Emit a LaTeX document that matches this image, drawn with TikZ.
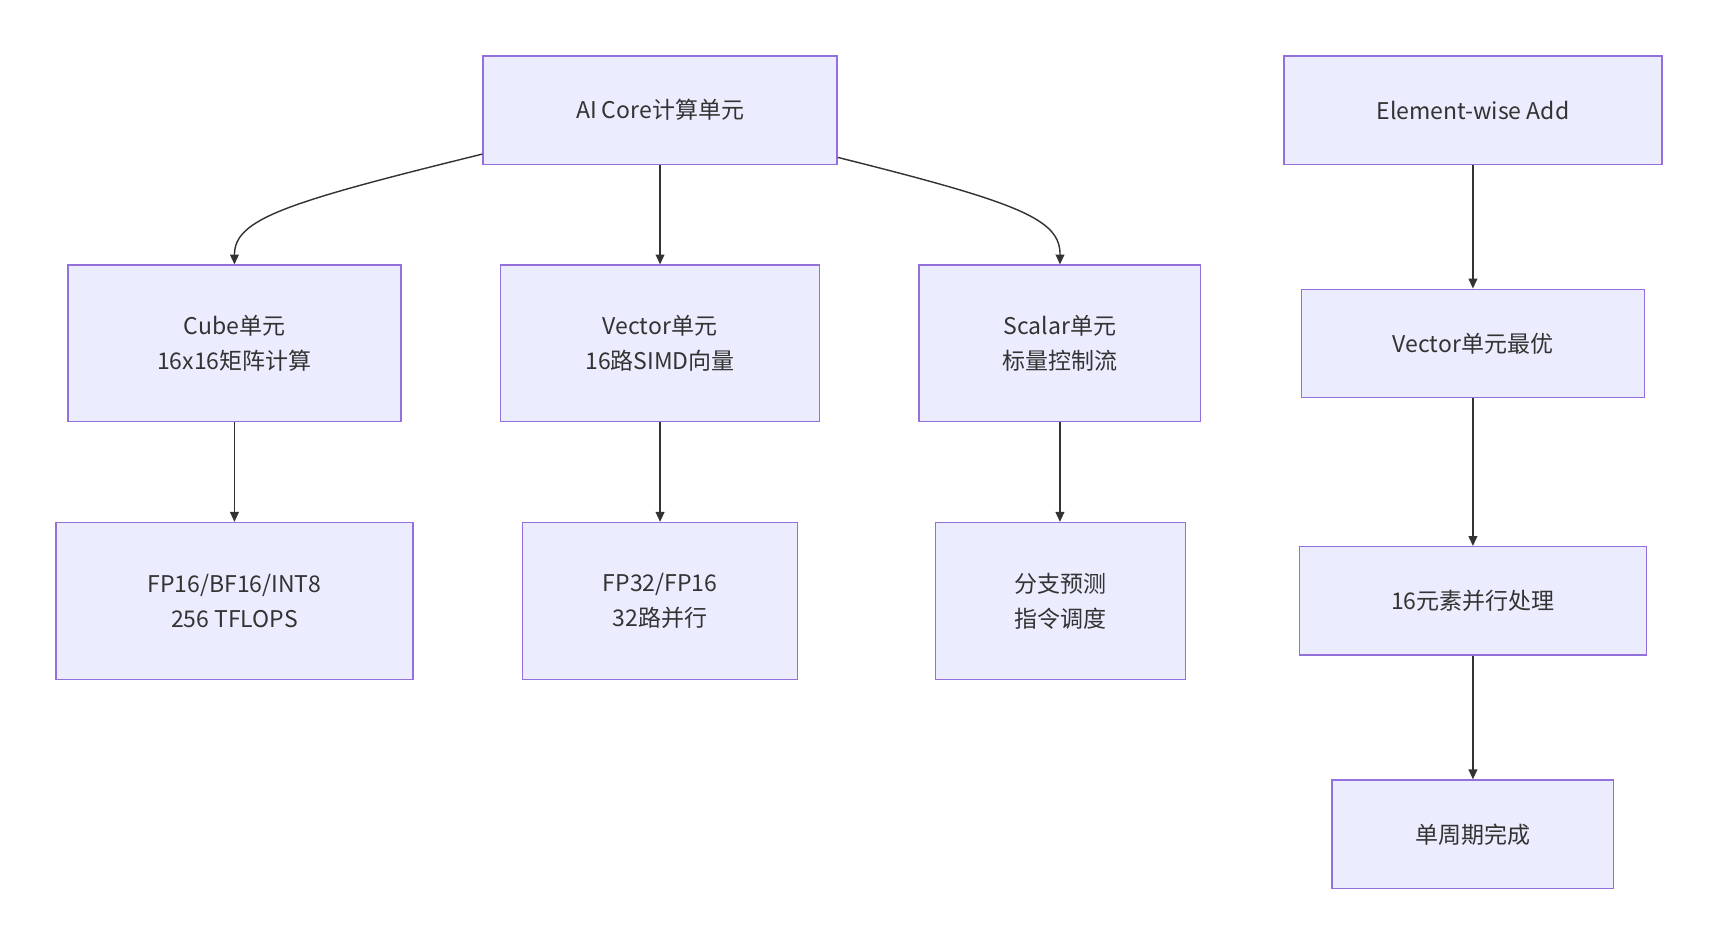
\documentclass[tikz,border=0pt]{standalone}
\usepackage{fontspec}
\setmainfont{Noto Sans CJK SC}
\usetikzlibrary{calc}
\usetikzlibrary{arrows.meta}
\definecolor{boxfill}{HTML}{ECECFF}
\definecolor{boxline}{HTML}{9370DB}
\definecolor{edge}{HTML}{333333}
\begin{document}
\begin{tikzpicture}[x=1pt,y=-1pt,
  box/.style={draw=boxline,fill=boxfill,line width=1.3pt,inner sep=0pt,align=center,font=\fontsize{21}{32}\selectfont,text=edge},
  arr/.style={draw=edge,line width=1.3pt,-{Triangle[length=9pt,width=8pt]}}]
\useasboundingbox (0,0) rectangle (1560,857);
\node[box,minimum width=323,minimum height=99] (ai) at (602.5,100.5) {AI Core计算单元};
\node[box,minimum width=345,minimum height=99] (ew) at (1344.5,100.5) {Element-wise Add};
\node[box,minimum width=304,minimum height=143] (cube) at (214,313.5) {Cube单元\\16x16矩阵计算};
\node[box,minimum width=291,minimum height=143] (vec) at (602.5,313.5) {Vector单元\\16路SIMD向量};
\node[box,minimum width=257,minimum height=143] (sca) at (967.5,313.5) {Scalar单元\\标量控制流};
\node[box,minimum width=326,minimum height=143] (c2) at (214,548.5) {FP16/BF16/INT8\\256 TFLOPS};
\node[box,minimum width=251,minimum height=143] (v2) at (602.5,548.5) {FP32/FP16\\32路并行};
\node[box,minimum width=228,minimum height=143] (s2) at (968,548.5) {分支预测\\指令调度};
\node[box,minimum width=313,minimum height=99] (vb) at (1344.5,313.5) {Vector单元最优};
\node[box,minimum width=317,minimum height=99] (pe) at (1344.5,548.5) {16元素并行处理};
\node[box,minimum width=257,minimum height=99] (sc) at (1344.5,761.5) {单周期完成};
\draw[arr] ($(ai.south west)+(0,-10)$) .. controls (260,185) and (214,200) .. (cube.north);
\draw[arr] ($(ai.south east)+(0,-7)$) .. controls (930,185) and (968,200) .. (sca.north);
\draw[arr] (ai) -- (vec);
\draw[arr] (cube) -- (c2);
\draw[arr] (vec) -- (v2);
\draw[arr] (sca.south) -- (sca.south |- s2.north);
\draw[arr] (ew) -- (vb);
\draw[arr] (vb) -- (pe);
\draw[arr] (pe) -- (sc);
\end{tikzpicture}
\end{document}
